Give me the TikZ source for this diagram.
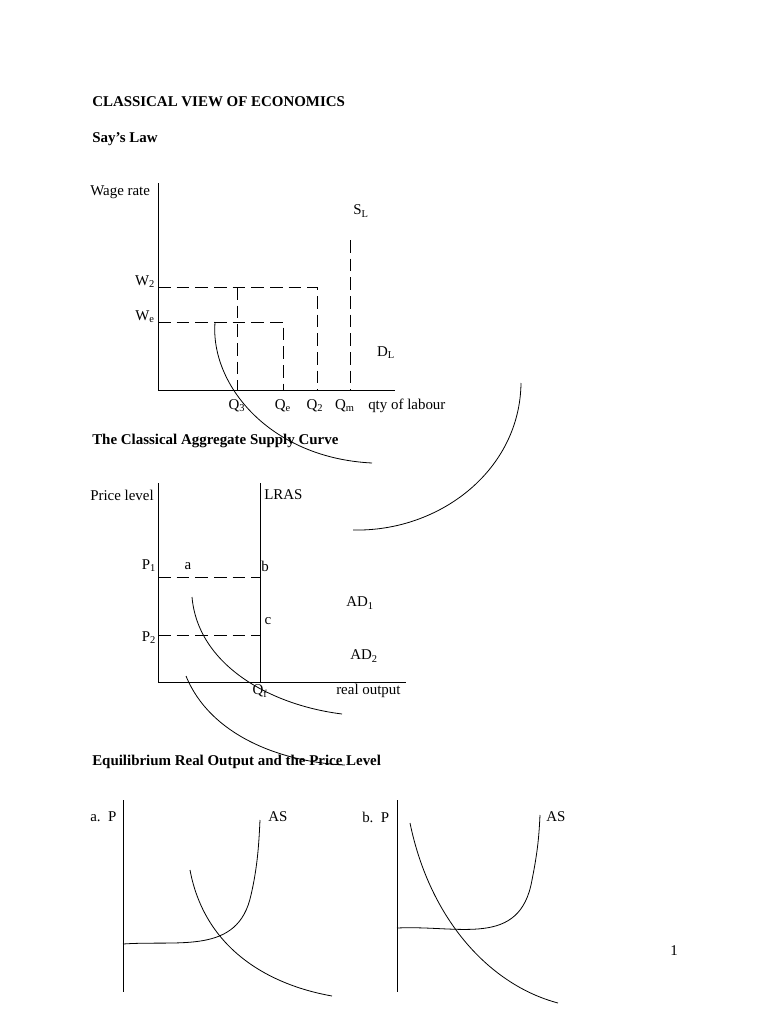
\documentclass[tikz,border=0pt]{standalone}
\usepackage{fontspec}
\setmainfont{Liberation Serif}
\begin{document}
\begin{tikzpicture}[x=0.75pt,y=-0.75pt,
  lbl/.style={font=\fontsize{11.2pt}{13pt}\selectfont,inner sep=0pt},
  ttl/.style={font=\bfseries\fontsize{11.2pt}{13pt}\selectfont,inner sep=0pt,anchor=west},
  ax/.style={line width=0.7pt},
  dsh/.style={line width=0.7pt,dash pattern=on 9.5pt off 4.5pt},
  crv/.style={line width=0.6pt}]
\useasboundingbox (0,0) rectangle (768,1024);
\fill[white] (0,0) rectangle (768,1024);
\node[ttl] (t1) at (92,102) {CLASSICAL VIEW OF ECONOMICS};
\node[ttl] (t2) at (92,139) {Say’s Law};
% graph 1
\draw[ax] (158,183) -- (158,390) -- (395,390);
\node[lbl,anchor=west] (wr) at (90,192) {Wage rate};
\draw[dsh] (158,287) -- (317,287) -- (317,390);
\draw[dsh] (237,287) -- (237,390);
\draw[dsh] (158,322) -- (283,322) -- (283,390);
\draw[dsh] (350,240) -- (350,390);
\node[lbl] (sl) at (361,211) {S\textsubscript{L}};
\node[lbl] (w2) at (145,282) {W\textsubscript{2}};
\node[lbl] (we) at (145,317) {W\textsubscript{e}};
\node[lbl] (dl) at (386,353) {D\textsubscript{L}};
\node[lbl] (q3) at (237,406) {Q\textsubscript{3}};
\node[lbl] (qe) at (283,406) {Q\textsubscript{e}};
\node[lbl] (q2) at (315,406) {Q\textsubscript{2}};
\node[lbl] (qm) at (345,406) {Q\textsubscript{m}};
\node[lbl,anchor=west] (ql) at (368,406) {qty of labour};
\draw[crv] (215,322) .. controls (210,385) and (270,458) .. (372,463);
\draw[crv] (521,383) .. controls (520,470) and (440,532) .. (353,530);
\node[ttl] (t3) at (92,441) {The Classical Aggregate Supply Curve};
% graph 2
\draw[ax] (158,483) -- (158,682) -- (406,682);
\draw[ax] (260,483) -- (260,682);
\node[lbl,anchor=west] (pl) at (90,495) {Price level};
\node[lbl,anchor=west] (lras) at (264,495) {LRAS};
\draw[dsh] (158,577) -- (260,577);
\draw[dsh] (158,635) -- (260,635);
\node[lbl] (p1) at (149,566) {P\textsubscript{1}};
\node[lbl] (a) at (188,566) {a};
\node[lbl] (b) at (265,566) {b};
\node[lbl] (c) at (268,621) {c};
\node[lbl] (p2) at (149,638) {P\textsubscript{2}};
\node[lbl] (ad1) at (360,603) {AD\textsubscript{1}};
\node[lbl] (ad2) at (364,656) {AD\textsubscript{2}};
\node[lbl] (qf) at (260,691) {Q\textsubscript{f}};
\node[lbl,anchor=west] (ro) at (336,691) {real output};
\draw[crv] (192,597) .. controls (198,665) and (270,705) .. (342,714);
\draw[crv] (186,676) .. controls (210,735) and (280,762) .. (345,765);
\node[ttl] (t4) at (92,762) {Equilibrium Real Output and the Price Level};
% graph a
\node[lbl,anchor=west] (la) at (90,817) {a.\ \ P};
\draw[ax] (123,800) -- (123,992);
\node[lbl,anchor=west] (asa) at (268,817) {AS};
\draw[crv] (123,944) .. controls (180,940) and (238,955) .. (251,895) .. controls (258,865) and (259,840) .. (260,820);
\draw[crv] (190,870) .. controls (205,950) and (270,985) .. (332,996);
% graph b
\node[lbl,anchor=west] (lb) at (362,817) {b.\ \ P};
\draw[ax] (397,800) -- (397,992);
\node[lbl,anchor=west] (asb) at (546,817) {AS};
\draw[crv] (397,928) .. controls (460,925) and (520,948) .. (532,880) .. controls (538,850) and (539,835) .. (540,815);
\draw[crv] (410,823) .. controls (430,920) and (490,985) .. (558,1003);
\node[lbl] (pg) at (674,951) {1};
\end{tikzpicture}
\end{document}
